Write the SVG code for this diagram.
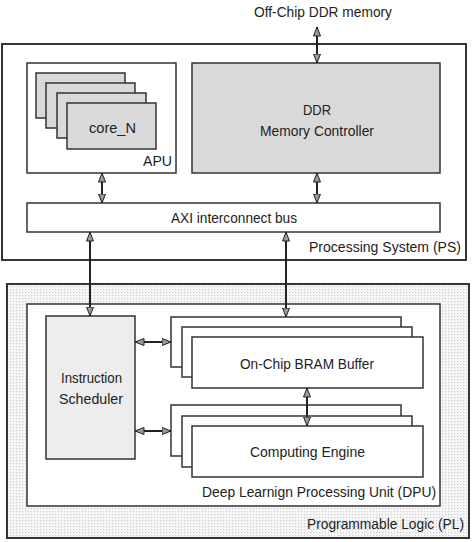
<svg xmlns="http://www.w3.org/2000/svg" width="474" height="542" viewBox="0 0 474 542">
<defs>
<style>
.box{fill:#fff;stroke:#333;stroke-width:1.5}
.gray{fill:#d9d9d9;stroke:#333;stroke-width:1.5}
.light{fill:#ededed;stroke:#333;stroke-width:1.5}
.outer{stroke:#333;stroke-width:2}
.t{font-family:"Liberation Sans",Arial,sans-serif;font-size:15px;fill:#222}
.s{font-size:14px}
.c{fill:none;stroke:#222;stroke-width:2;marker-start:url(#ah);marker-end:url(#ah)}
</style>
<pattern id="dots" width="3" height="3" patternUnits="userSpaceOnUse">
<rect width="3" height="3" fill="#f7f7f7"/>
<rect x="1" y="1" width="1.2" height="1.2" fill="#cdcdcd"/>
</pattern>
<marker id="ah" viewBox="0 0 10 8" refX="9.5" refY="4" markerWidth="10" markerHeight="8" markerUnits="userSpaceOnUse" orient="auto-start-reverse">
<path d="M0.5,0.5 L9.5,4 L0.5,7.5 Z" fill="#9a9a9a" stroke="#222" stroke-width="1"/>
</marker>
</defs>
<rect width="474" height="542" fill="#fff"/>

<g id="ps">
<rect class="outer" x="2" y="44" width="464" height="216" fill="#fff"/>
<text class="t s" x="309" y="252" textLength="152" lengthAdjust="spacingAndGlyphs">Processing System (PS)</text>
</g>

<g id="apu">
<rect class="box" x="27" y="63" width="149" height="110"/>
<rect class="gray" x="36" y="73" width="89" height="45"/>
<rect class="gray" x="46" y="83" width="89" height="45"/>
<rect class="gray" x="57" y="93" width="89" height="45"/>
<rect class="gray" x="67" y="103" width="89" height="46"/>
<text class="t" x="89" y="133" textLength="47" lengthAdjust="spacingAndGlyphs">core_N</text>
<text class="t" x="143" y="166" textLength="29" lengthAdjust="spacingAndGlyphs">APU</text>
</g>

<g id="ddr-controller">
<rect class="gray" x="192" y="63" width="248" height="110"/>
<text class="t" x="303" y="115" textLength="28" lengthAdjust="spacingAndGlyphs">DDR</text>
<text class="t" x="260" y="136" textLength="114" lengthAdjust="spacingAndGlyphs">Memory Controller</text>
</g>

<g id="axi">
<rect class="box" x="27" y="203" width="413" height="29"/>
<text class="t" x="171" y="223" textLength="126" lengthAdjust="spacingAndGlyphs">AXI interconnect bus</text>
</g>

<g id="offchip">
<text class="t" x="254" y="17" textLength="138" lengthAdjust="spacingAndGlyphs">Off-Chip DDR memory</text>
</g>

<g id="pl">
<rect class="outer" x="7" y="284" width="462" height="254" fill="url(#dots)"/>
<text class="t s" x="307" y="529" textLength="157" lengthAdjust="spacingAndGlyphs">Programmable Logic (PL)</text>
</g>

<g id="dpu">
<rect class="box" x="27" y="304" width="413" height="202"/>
<text class="t s" x="202" y="497" textLength="234" lengthAdjust="spacingAndGlyphs">Deep Learnign Processing Unit (DPU)</text>
</g>

<g id="scheduler">
<rect class="light" x="46" y="316" width="89" height="143"/>
<text class="t" x="61" y="383" textLength="61" lengthAdjust="spacingAndGlyphs">Instruction</text>
<text class="t" x="59" y="404" textLength="64" lengthAdjust="spacingAndGlyphs">Scheduler</text>
</g>

<g id="bram">
<rect class="box" x="171" y="317" width="230" height="50"/>
<rect class="box" x="182" y="327" width="230" height="50"/>
<rect class="box" x="192" y="337" width="231" height="51"/>
<text class="t" x="240" y="369" textLength="134" lengthAdjust="spacingAndGlyphs">On-Chip BRAM Buffer</text>
</g>

<g id="compute">
<rect class="box" x="171" y="405" width="230" height="51"/>
<rect class="box" x="182" y="416" width="230" height="51"/>
<rect class="box" x="192" y="426" width="231" height="51"/>
<text class="t" x="250" y="457" textLength="115" lengthAdjust="spacingAndGlyphs">Computing Engine</text>
</g>

<g id="connectors">
<line class="c" x1="317" y1="27" x2="317" y2="63"/>
<line class="c" x1="317" y1="173" x2="317" y2="203"/>
<line class="c" x1="102" y1="173" x2="102" y2="203"/>
<line class="c" x1="90" y1="232" x2="90" y2="316"/>
<line class="c" x1="286" y1="232" x2="286" y2="317"/>
<line class="c" x1="135" y1="342" x2="171" y2="342"/>
<line class="c" x1="135" y1="431" x2="171" y2="431"/>
<line class="c" x1="307" y1="388" x2="307" y2="426"/>
</g>
</svg>
